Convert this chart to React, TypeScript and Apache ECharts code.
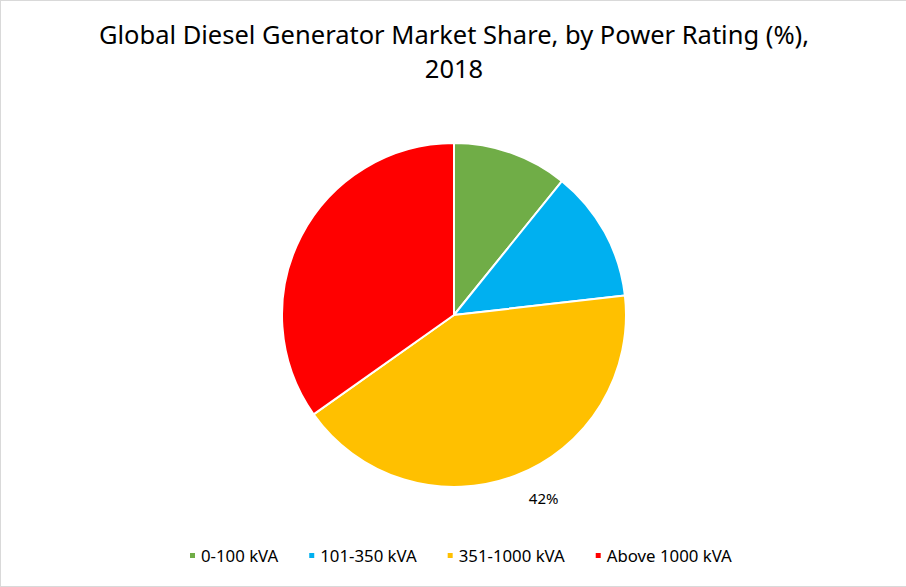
import { useEffect, useRef } from "react";
import * as echarts from "echarts";

const categories = ["0-100 kVA", "101-350 kVA", "351-1000 kVA", "Above 1000 kVA"];
const shares = [10.8, 12.4, 42, 34.8];
const colors = ["#70AD47", "#00B0F0", "#FFC000", "#FF0000"];
// only the largest slice carries a label in the source
const labelled = [false, false, true, false];

export default function App() {
  const chartRef = useRef<HTMLDivElement>(null);

  useEffect(() => {
    if (!chartRef.current) return;
    const chart = echarts.init(chartRef.current, undefined, { renderer: "svg" });

    const option = {
      animation: false,
      backgroundColor: "#ffffff",
      title: {
        text: "Global Diesel Generator Market Share, by Power Rating (%),\n2018",
        left: "center",
        top: 11,
        textStyle: {
          fontFamily: "Noto Sans",
          fontSize: 25.5,
          fontWeight: "normal",
          color: "#000000",
          lineHeight: 34,
        },
      },
      legend: {
        top: 541,
        left: 182,
        icon: "rect",
        itemWidth: 7,
        itemHeight: 7,
        itemGap: 29,
        textStyle: {
          fontFamily: "Noto Sans",
          fontSize: 16.8,
          color: "#000000",
        },
        data: categories,
      },
      series: [
        {
          type: "pie",
          center: [453, 314],
          radius: 172,
          startAngle: 90,
          clockwise: true,
          itemStyle: {
            borderColor: "#ffffff",
            borderWidth: 2,
          },
          label: {
            position: "outside",
            formatter: (p: any) => `${Math.round(p.value)}%`,
            fontFamily: "Noto Sans",
            fontSize: 15,
            color: "#000000",
          },
          labelLine: { show: false, length: 24, length2: 0 },
          emphasis: { disabled: true },
          data: categories.map((name, i) => ({
            name,
            value: shares[i],
            itemStyle: { color: colors[i] },
            label: { show: labelled[i] },
          })),
        },
      ],
    };

    chart.setOption(option);
    return () => {
      chart.dispose();
    };
  }, []);

  return (
    <div
      ref={chartRef}
      style={{
        position: "fixed",
        left: 0,
        top: 0,
        width: 907,
        height: 587,
        boxSizing: "border-box",
        borderLeft: "1px solid #d9d9d9",
        borderTop: "1px solid #d9d9d9",
        borderBottom: "1px solid #d9d9d9",
      }}
    />
  );
}
